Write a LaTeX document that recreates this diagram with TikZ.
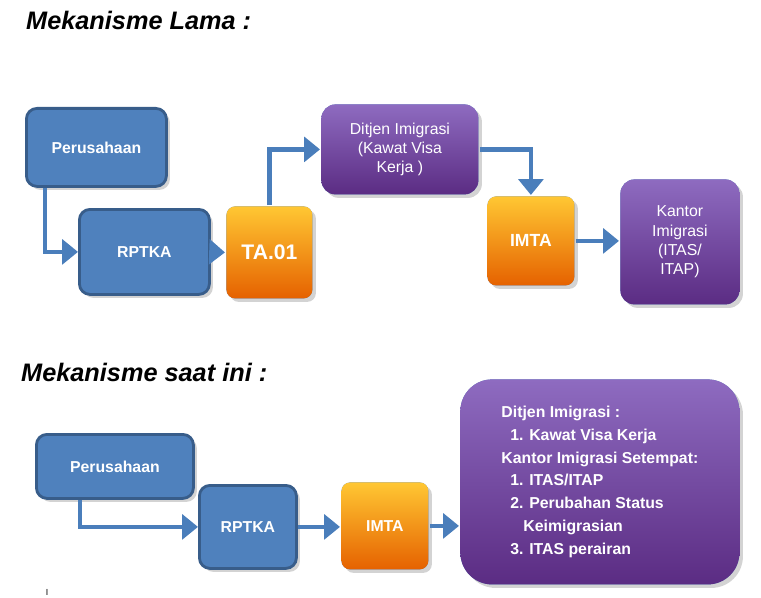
\documentclass[tikz,border=0pt]{standalone}
\usepackage{fontspec}
\setmainfont{Liberation Sans}
\usetikzlibrary{shadows,arrows.meta}
\definecolor{boxblue}{HTML}{4F81BD}
\definecolor{edgeblue}{HTML}{385D8A}
\definecolor{arrblue}{HTML}{4A7EBB}
\definecolor{unguatas}{HTML}{8E6BC0}
\definecolor{unguBawah}{HTML}{5B2C83}
\tikzset{
  blok/.style={draw=edgeblue, line width=1.6pt, rounded corners=6pt, fill=boxblue,
    text=white, font=\bfseries\small, align=center, anchor=north west,
    drop shadow={opacity=0.35,shadow xshift=2pt,shadow yshift=-2pt}},
  oranye/.style={blok, draw=none, rounded corners=5pt, top color=orange!55!yellow!80, bottom color=orange!85!red!90!black},
  ungu/.style={blok, draw=none, rounded corners=8pt, top color=unguatas, bottom color=unguBawah},
  panah/.style={draw=arrblue, line width=2.4pt, -{Triangle[length=9pt,width=14pt]}},
  judul/.style={font=\bfseries\itshape\Large, anchor=west}
}
\begin{document}
\begin{tikzpicture}[x=0.02cm,y=-0.02cm]
  \useasboundingbox (0,0) rectangle (761,598);

  % mekanisme lama
  \node[judul] (lama) at (20,20) {Mekanisme Lama :};
  \node[blok, minimum width=140*0.02cm, minimum height=78*0.02cm] (pa) at (25,107) {Perusahaan};
  \node[blok, minimum width=130*0.02cm, minimum height=85*0.02cm] (ra) at (78,208) {RPTKA};
  \node[oranye, minimum width=86*0.02cm, minimum height=92*0.02cm, font=\bfseries\large] (ta) at (225,205) {TA.01};
  \node[ungu, minimum width=157*0.02cm, minimum height=90*0.02cm, font=\small] (dj) at (320,103) {Ditjen Imigrasi\\(Kawat Visa\\Kerja )};
  \node[oranye, minimum width=87*0.02cm, minimum height=89*0.02cm, font=\bfseries\normalsize] (ia) at (486,195) {IMTA};
  \node[ungu, minimum width=119*0.02cm, minimum height=125*0.02cm, font=\small] (ka) at (619,178) {Kantor\\Imigrasi\\(ITAS/\\ITAP)};

  \draw[panah] (pa.south west) ++(20,0) |- (ra.west);
  \draw[panah] (ra.east) -- (ta.west);
  \draw[panah] (ta.north) |- (dj.west);
  \draw[panah] (dj.east) -| (ia.north);
  \draw[panah] (ia.east) -- (ia.east -| ka.west);

  % mekanisme saat ini
  \node[judul] (kini) at (15,372) {Mekanisme saat ini :};
  \node[blok, minimum width=157*0.02cm, minimum height=64*0.02cm] (pb) at (35,433) {Perusahaan};
  \node[blok, minimum width=97*0.02cm, minimum height=83*0.02cm] (rb) at (198,484) {RPTKA};
  \node[oranye, minimum width=87*0.02cm, minimum height=87*0.02cm] (ib) at (340,481) {IMTA};
  \node[ungu, rounded corners=18pt, minimum width=279*0.02cm, minimum height=205*0.02cm, align=left, font=\bfseries\small] (kb) at (459,378)
    {Ditjen Imigrasi :\\[2pt]
     \ \ 1. Kawat Visa Kerja\\[2pt]
     Kantor Imigrasi Setempat:\\[2pt]
     \ \ 1. ITAS/ITAP\\[2pt]
     \ \ 2. Perubahan Status\\[2pt]
     \ \ \ \ \ Keimigrasian\\[2pt]
     \ \ 3. ITAS perairan};

  \draw[panah] (pb.south) ++(-35,0) |- (rb.west);
  \draw[panah] (rb.east) -- (rb.east -| ib.west);
  \draw[panah] (ib.east) -- (kb.west |- ib.east);

  \node[font=\tiny] (tanda) at (47,592) {I};
\end{tikzpicture}
\end{document}
